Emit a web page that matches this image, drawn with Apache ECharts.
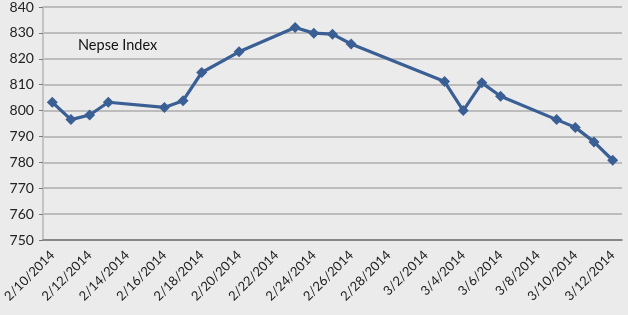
<!DOCTYPE html>
<html><head><meta charset="utf-8">
<script src="https://cdn.jsdelivr.net/npm/echarts@6/dist/echarts.min.js"></script>
<style>html,body{margin:0;padding:0;background:#ebebeb}#c{width:628px;height:315px}</style>
</head><body><div id="c"></div>
<script>
var dates = ['2/10/2014','2/11/2014','2/12/2014','2/13/2014','2/14/2014','2/15/2014','2/16/2014','2/17/2014','2/18/2014','2/19/2014','2/20/2014','2/21/2014','2/22/2014','2/23/2014','2/24/2014','2/25/2014','2/26/2014','2/27/2014','2/28/2014','3/1/2014','3/2/2014','3/3/2014','3/4/2014','3/5/2014','3/6/2014','3/7/2014','3/8/2014','3/9/2014','3/10/2014','3/11/2014','3/12/2014'];
var nepse = [803.2,796.5,798.3,803.2,null,null,801.2,803.8,814.7,null,822.7,null,null,832.1,829.9,829.5,825.7,null,null,null,null,811.2,800.0,810.7,805.5,null,null,796.5,793.5,787.9,780.8];
var yTicks = {min:750, max:840, interval:10};
var chart = echarts.init(document.getElementById('c'));
chart.setOption({
  backgroundColor:'#ebebeb',
  animation:false,
  title:{text:'Nepse Index', left:78, top:38, padding:0, textStyle:{fontFamily:'Lato', fontSize:14.5, fontWeight:'normal', color:'#111'}},
  grid:{left:39, right:6, top:6, bottom:75, containLabel:false},
  xAxis:{type:'category', data:dates, boundaryGap:true,
    axisLine:{lineStyle:{color:'#777', width:1.5}},
    axisTick:{interval:1, length:5, lineStyle:{color:'#777'}},
    axisLabel:{interval:1, rotate:45, fontFamily:'Lato', fontSize:13, color:'#222', margin:13},
    splitLine:{show:false}},
  yAxis:{type:'value', min:yTicks.min, max:yTicks.max, interval:yTicks.interval,
    axisLine:{show:true, lineStyle:{color:'#c4c4c4', width:2}},
    axisTick:{show:true, length:4, lineStyle:{color:'#777'}},
    axisLabel:{fontFamily:'Lato', fontSize:14, color:'#222', margin:9},
    splitLine:{lineStyle:{color:'#bcbcbc', width:2}}},
  series:[{type:'line', data:nepse, connectNulls:true, symbol:'diamond', symbolSize:11,
    lineStyle:{color:'#3a5f95', width:3.2}, itemStyle:{color:'#3a5f95'}}]
});
</script></body></html>
